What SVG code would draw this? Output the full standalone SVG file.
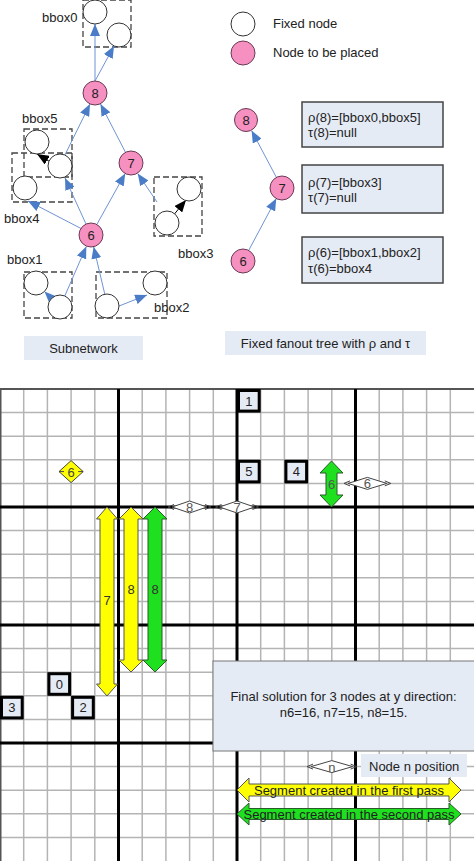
<svg xmlns="http://www.w3.org/2000/svg" width="474" height="861" viewBox="0 0 474 861">
<style>
text{font-family:"Liberation Sans",Arial,sans-serif;font-size:13px;fill:#222}
.c{text-anchor:middle}
.fix{fill:#fff;stroke:#333;stroke-width:1}
.pink{fill:#f590c0;stroke:#6a3a55;stroke-width:1}
.bb{fill:none;stroke:#444;stroke-width:1.3;stroke-dasharray:6,3}
.bl{stroke:#6f93d4;stroke-width:1;fill:none;marker-end:url(#ab)}
.bk{stroke:#000;stroke-width:1;fill:none;marker-end:url(#ak)}
.box{fill:#e5ebf5;stroke:#444;stroke-width:1.5}
.lab{fill:#e5ebf5}
.gt{stroke:#b4b4b4;stroke-width:1.5}
.gk{stroke:#000;stroke-width:3}
.sq{fill:#e5ebf5;stroke:#000;stroke-width:3}
.y{fill:#ffff00;stroke:#555;stroke-width:1}
.g{fill:#1fe01f;stroke:#2a5a2a;stroke-width:1}
.dm{fill:#fff;stroke:#444;stroke-width:1}
.tk{stroke:#444;stroke-width:1;fill:none}
</style>
<defs>
<marker id="ab" viewBox="0 0 12 10" refX="12" refY="5" markerWidth="12" markerHeight="10" markerUnits="userSpaceOnUse" orient="auto"><path d="M0,0 L12,5 L0,10 z" fill="#4a7cc8"/></marker>
<marker id="ak" viewBox="0 0 12 10" refX="12" refY="5" markerWidth="12" markerHeight="10" markerUnits="userSpaceOnUse" orient="auto"><path d="M0,0 L12,5 L0,10 z" fill="#000"/></marker>
</defs>

<!-- ===== Subnetwork (left top) ===== -->
<g id="bboxes">
<rect class="bb" x="83" y="0" width="48" height="47"/>
<rect class="bb" x="24" y="129" width="48" height="48"/>
<rect class="bb" x="12" y="153" width="60" height="49"/>
<rect class="bb" x="154" y="177" width="48" height="59"/>
<rect class="bb" x="24" y="272" width="48" height="46"/>
<rect class="bb" x="96" y="272" width="71" height="46"/>
</g>
<g id="bbox-labels">
<text x="42" y="22">bbox0</text>
<text x="22" y="123">bbox5</text>
<text x="4" y="223">bbox4</text>
<text x="7" y="264">bbox1</text>
<text x="178" y="258">bbox3</text>
<text x="154" y="312">bbox2</text>
</g>
<g id="connectors">
<line class="bl" x1="95" y1="81" x2="95" y2="24"/>
<line class="bl" x1="95" y1="81" x2="114" y2="46"/>
<line class="bl" x1="60" y1="165" x2="90" y2="104"/>
<line class="bl" x1="125.5" y1="152.3" x2="100.5" y2="104"/>
<line class="bl" x1="96.8" y1="224.5" x2="125.2" y2="173.5"/>
<line class="bl" x1="157" y1="202" x2="137.7" y2="173.5"/>
<line class="bl" x1="86" y1="224" x2="65" y2="178"/>
<line class="bl" x1="82" y1="229" x2="28" y2="201"/>
<line class="bl" x1="60" y1="307" x2="86.3" y2="246.5"/>
<line class="bl" x1="104.8" y1="294.2" x2="93.6" y2="246.7"/>
<line class="bl" x1="60" y1="307" x2="44.5" y2="291.5"/>
<line class="bl" x1="119" y1="306" x2="147" y2="295"/>
<line class="bk" x1="57" y1="166" x2="37" y2="154"/>
<line class="bk" x1="167" y1="223" x2="186" y2="200"/>
<line class="bl" x1="248.7" y1="250.4" x2="276.3" y2="198.6"/>
<line class="bl" x1="276.4" y1="177.4" x2="251.6" y2="130.6"/>
</g>
<g id="fixed-nodes">
<circle class="fix" cx="95" cy="12" r="12"/>
<circle class="fix" cx="119" cy="35" r="12"/>
<circle class="fix" cx="37" cy="142" r="12"/>
<circle class="fix" cx="60" cy="166" r="12"/>
<circle class="fix" cx="25" cy="188" r="12"/>
<circle class="fix" cx="189" cy="189" r="12"/>
<circle class="fix" cx="167" cy="223" r="12"/>
<circle class="fix" cx="36" cy="283" r="12"/>
<circle class="fix" cx="60" cy="307" r="12"/>
<circle class="fix" cx="107" cy="306" r="12"/>
<circle class="fix" cx="155" cy="283" r="12"/>
</g>
<g id="node8"><circle class="pink" cx="95" cy="93" r="12"/><text class="c" x="95" y="98">8</text></g>
<g id="node7"><circle class="pink" cx="131" cy="163" r="12"/><text class="c" x="131" y="168">7</text></g>
<g id="node6"><circle class="pink" cx="91" cy="235" r="12"/><text class="c" x="91" y="240">6</text></g>
<g id="subnetwork-label"><rect class="lab" x="24" y="336" width="119" height="24"/><text class="c" x="83.5" y="353">Subnetwork</text></g>

<!-- ===== Legend and fanout tree ===== -->
<g id="legend">
<circle class="fix" cx="243" cy="24" r="12"/><text x="273" y="28">Fixed node</text>
<circle class="pink" cx="243" cy="53" r="12"/><text x="273" y="57">Node to be placed</text>
</g>
<g id="tree8"><circle class="pink" cx="246" cy="120" r="11.5"/><text class="c" x="246" y="125">8</text></g>
<g id="tree7"><circle class="pink" cx="282" cy="188" r="12"/><text class="c" x="282" y="193">7</text></g>
<g id="tree6"><circle class="pink" cx="243" cy="261" r="12"/><text class="c" x="243" y="266">6</text></g>
<g id="rho8"><rect class="box" x="302" y="102" width="141" height="45"/><text x="308" y="122">ρ(8)=[bbox0,bbox5]</text><text x="308" y="137">τ(8)=null</text></g>
<g id="rho7"><rect class="box" x="302" y="165" width="141" height="48"/><text x="308" y="187">ρ(7)=[bbox3]</text><text x="308" y="202">τ(7)=null</text></g>
<g id="rho6"><rect class="box" x="302" y="237" width="141" height="46"/><text x="308" y="257">ρ(6)=[bbox1,bbox2]</text><text x="308" y="273">τ(6)=bbox4</text></g>
<g id="tree-label"><rect class="lab" x="225" y="331" width="201" height="24"/><text class="c" x="325.5" y="348">Fixed fanout tree with ρ and τ</text></g>

<!-- ===== Grid ===== -->
<g id="grid">
<g class="gt">
<line x1="23.7" y1="389" x2="23.7" y2="861"/><line x1="47.4" y1="389" x2="47.4" y2="861"/><line x1="71.1" y1="389" x2="71.1" y2="861"/><line x1="94.8" y1="389" x2="94.8" y2="861"/>
<line x1="142.2" y1="389" x2="142.2" y2="861"/><line x1="165.9" y1="389" x2="165.9" y2="861"/><line x1="189.6" y1="389" x2="189.6" y2="861"/><line x1="213.3" y1="389" x2="213.3" y2="861"/>
<line x1="260.7" y1="389" x2="260.7" y2="861"/><line x1="284.4" y1="389" x2="284.4" y2="861"/><line x1="308.1" y1="389" x2="308.1" y2="861"/><line x1="331.8" y1="389" x2="331.8" y2="861"/>
<line x1="379.2" y1="389" x2="379.2" y2="861"/><line x1="402.9" y1="389" x2="402.9" y2="861"/><line x1="426.6" y1="389" x2="426.6" y2="861"/><line x1="450.3" y1="389" x2="450.3" y2="861"/>
<line x1="0" y1="412.6" x2="474" y2="412.6"/><line x1="0" y1="436.2" x2="474" y2="436.2"/><line x1="0" y1="459.8" x2="474" y2="459.8"/><line x1="0" y1="483.4" x2="474" y2="483.4"/>
<line x1="0" y1="530.6" x2="474" y2="530.6"/><line x1="0" y1="554.2" x2="474" y2="554.2"/><line x1="0" y1="577.8" x2="474" y2="577.8"/><line x1="0" y1="601.4" x2="474" y2="601.4"/>
<line x1="0" y1="648.6" x2="474" y2="648.6"/><line x1="0" y1="672.2" x2="474" y2="672.2"/><line x1="0" y1="695.8" x2="474" y2="695.8"/><line x1="0" y1="719.4" x2="474" y2="719.4"/>
<line x1="0" y1="766.6" x2="474" y2="766.6"/><line x1="0" y1="790.2" x2="474" y2="790.2"/><line x1="0" y1="813.8" x2="474" y2="813.8"/><line x1="0" y1="837.4" x2="474" y2="837.4"/>
</g>
<line x1="0" y1="389" x2="474" y2="389" stroke="#555" stroke-width="2"/>
<line x1="0" y1="389" x2="0" y2="861" stroke="#555" stroke-width="3"/>
<g class="gk">
<line x1="118.5" y1="389" x2="118.5" y2="861"/><line x1="237" y1="389" x2="237" y2="861"/><line x1="355.5" y1="389" x2="355.5" y2="861"/>
<line x1="0" y1="507" x2="474" y2="507"/><line x1="0" y1="625" x2="474" y2="625"/><line x1="0" y1="743" x2="474" y2="743"/>
</g>
</g>

<!-- fixed cells -->
<g id="cell1"><rect class="sq" x="238.5" y="390.5" width="20.7" height="20.6"/><text class="c" x="248.9" y="405.5">1</text></g>
<g id="cell5"><rect class="sq" x="238.5" y="461.3" width="20.7" height="20.6"/><text class="c" x="248.9" y="476.3">5</text></g>
<g id="cell4"><rect class="sq" x="285.9" y="461.3" width="20.7" height="20.6"/><text class="c" x="296.3" y="476.3">4</text></g>
<g id="cell0"><rect class="sq" x="48.9" y="673.7" width="20.7" height="20.6"/><text class="c" x="59.3" y="688.7">0</text></g>
<g id="cell3"><rect class="sq" x="1.5" y="697.3" width="20.7" height="20.6"/><text class="c" x="11.9" y="712.3">3</text></g>
<g id="cell2"><rect class="sq" x="72.6" y="697.3" width="20.7" height="20.6"/><text class="c" x="83" y="712.3">2</text></g>

<!-- segments -->
<g id="seg7"><polygon class="y" points="107,507 117.5,519 114,519 114,684 117.5,684 107,696 96.5,684 100,684 100,519 96.5,519"/><text class="c" x="107" y="605" style="fill:#333">7</text></g>
<g id="seg8a"><polygon class="y" points="131,507 143,519 138,519 138,660 143,660 131,672 119,660 124,660 124,519 119,519"/><text class="c" x="131" y="594" style="fill:#333">8</text></g>
<g id="seg8b"><polygon class="g" points="155,507 167,519 162,519 162,660 167,660 155,672 143,660 148,660 148,519 143,519"/><text class="c" x="155" y="594" style="fill:#333">8</text></g>
<g id="seg6"><polygon class="g" points="331.5,461 343,473 337,473 337,495 343,495 331.5,507 320,495 326,495 326,473 320,473"/><text class="c" x="331.5" y="489" style="fill:#555">6</text></g>

<!-- node position diamonds -->
<g id="pos6y"><polygon points="59,471.6 71.1,460.6 83.2,471.6 71.1,482.6" fill="#ffff00" stroke="#444"/><path class="tk" d="M59,471.6 h5 M83.2,471.6 h-5"/><text class="c" x="71.1" y="476.5" style="fill:#444">6</text></g>
<g id="pos8"><polygon class="dm" points="172,507 189.6,501 207,507 189.6,513"/><path class="tk" d="M168,507 l6,-2.5 M168,507 l6,2.5 M211,507 l-6,-2.5 M211,507 l-6,2.5"/><text class="c" x="189.6" y="512" style="fill:#555">8</text></g>
<g id="pos7"><polygon class="dm" points="219.5,507 237,501 254.5,507 237,513"/><path class="tk" d="M215.5,507 l6,-2.5 M215.5,507 l6,2.5 M258.5,507 l-6,-2.5 M258.5,507 l-6,2.5"/><text class="c" x="237" y="512" style="fill:#555">7</text></g>
<g id="pos6"><polygon class="dm" points="348,483.4 367.4,477.4 386.8,483.4 367.4,489.4"/><path class="tk" d="M344,483.4 l6,-2.5 M344,483.4 l6,2.5 M390.8,483.4 l-6,-2.5 M390.8,483.4 l-6,2.5"/><text class="c" x="367.4" y="488.4" style="fill:#555">6</text></g>

<!-- final solution box -->
<g id="final"><rect x="213" y="661" width="262" height="90" fill="#e5ebf5" stroke="#777" stroke-width="1"/>
<text class="c" x="343.5" y="701">Final solution for 3 nodes at y direction:</text>
<text class="c" x="343.5" y="717">n6=16, n7=15, n8=15.</text></g>

<!-- legend bottom -->
<g id="legend-n"><polygon class="dm" points="311,766.6 331.8,760.6 352.6,766.6 331.8,772.6"/><path class="tk" d="M307,766.6 l6,-2.5 M307,766.6 l6,2.5 M356.6,766.6 l-6,-2.5 M356.6,766.6 l-6,2.5"/><text class="c" x="331.8" y="771.5" style="fill:#555">n</text>
<rect class="lab" x="361" y="754" width="106" height="23"/><text x="369" y="771">Node n position</text></g>
<g id="legend-first"><polygon class="y" points="237,790 249,778 249,784 449,784 449,778 461,790 449,802 449,796 249,796 249,802"/><text class="c" x="349" y="795">Segment created in the first pass</text></g>
<g id="legend-second"><polygon class="g" points="237,814 249,803 249,808.5 449,808.5 449,803 461,814 449,825 449,819.5 249,819.5 249,825"/><text class="c" x="349" y="819">Segment created in the second pass</text></g>
</svg>
